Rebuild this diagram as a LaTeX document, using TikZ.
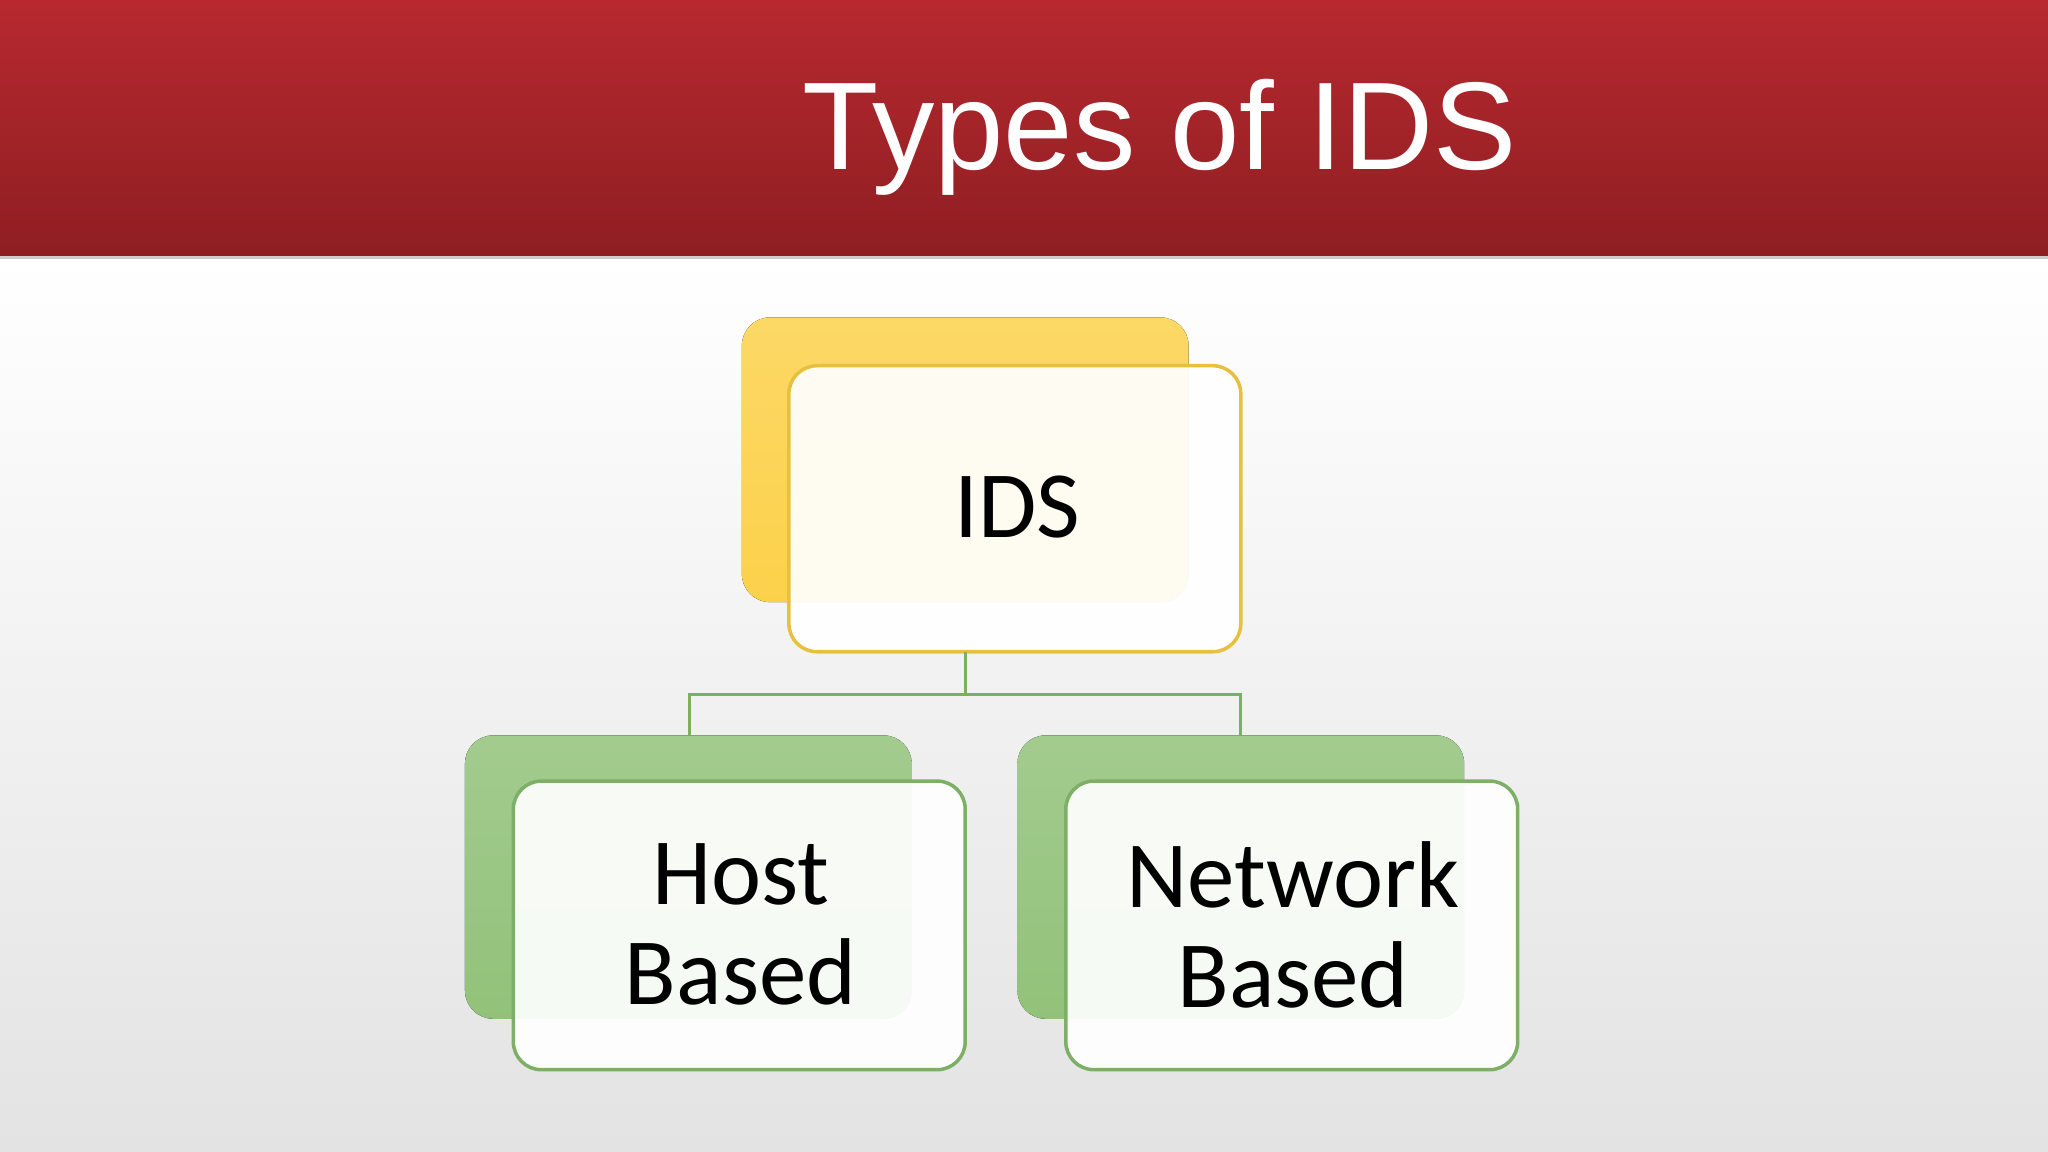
\documentclass[tikz,border=0pt]{standalone}
\usepackage{fontspec}
\setmainfont{Carlito}
\newfontfamily\titlefont{Liberation Sans}
\definecolor{bannertop}{HTML}{B7292F}
\definecolor{bannerbot}{HTML}{8E1E22}
\definecolor{ylw}{HTML}{FCD14A}
\definecolor{ylwd}{HTML}{E8C040}
\definecolor{grn}{HTML}{92C27A}
\definecolor{grnd}{HTML}{7DAF66}
\definecolor{lineg}{HTML}{7BB05E}
\begin{document}
\begin{tikzpicture}[x=0.013061cm,y=-0.013061cm,
  back/.style={rounded corners=8pt},
  front/.style={rounded corners=8pt, line width=1pt, fill=white, fill opacity=0.92, draw opacity=1},
  lbl/.style={font=\fontsize{27}{28.5}\selectfont, align=center, text=black},
  conn/.style={draw=lineg, line width=0.8pt}]
\useasboundingbox (0,0) rectangle (1568,882);
\shade[top color=white, bottom color=gray!22] (0,196) rectangle (1568,882);
\shade[top color=bannertop, bottom color=bannerbot] (0,0) rectangle (1568,196);
\draw[gray!40, line width=1pt] (0,197) -- (1568,197);
\node[text=white, font=\titlefont\fontsize{35.5}{36}\selectfont] (title) at (888,105) {Types of IDS};
% IDS
\fill[back, top color=ylw!85!white, bottom color=ylw] (568,243) rectangle (910,461);
\path[front, draw=ylwd] (604,280) rectangle (950,499);
\node[lbl] (ids) at (779,388) {IDS};
\coordinate (idsb) at (739,499);
% host
\fill[back, top color=grn!85!white, bottom color=grn] (356,563) rectangle (698,780);
\path[front, draw=grnd] (393,598) rectangle (739,819);
\node[lbl] (host) at (567,708) {Host\\Based};
\coordinate (hostt) at (528,563);
% network
\fill[back, top color=grn!85!white, bottom color=grn] (779,563) rectangle (1121,780);
\path[front, draw=grnd] (816,598) rectangle (1162,819);
\node[lbl] (net) at (990,708) {Network\\Based};
\coordinate (nett) at (950,563);
\draw[conn] (idsb) -- (739,532) -| (hostt);
\draw[conn] (739,532) -| (nett);
\end{tikzpicture}
\end{document}
